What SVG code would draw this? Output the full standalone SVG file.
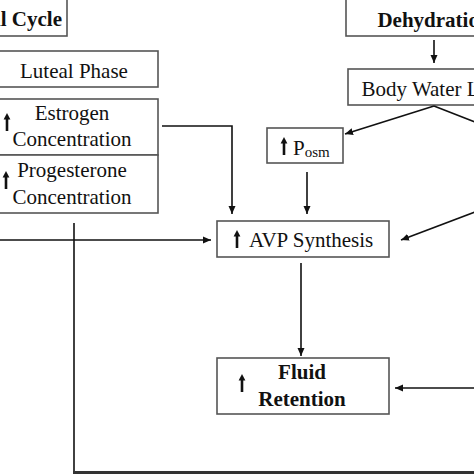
<svg xmlns="http://www.w3.org/2000/svg" width="474" height="474" viewBox="0 0 474 474">
<style>
.box{fill:#fff;stroke:#555;stroke-width:1.6}
.t{font-family:"Liberation Serif","Times New Roman",serif;font-size:21px;fill:#111}
.b{font-weight:bold}
.c{fill:none;stroke:#111;stroke-width:1.6}
</style>
<defs>
<marker id="ah" markerUnits="userSpaceOnUse" markerWidth="9" markerHeight="8" refX="8" refY="4" orient="auto">
<path d="M0,0.5 L8,4 L0,7.5 Z" fill="#111"/>
</marker>
<g id="up"><path d="M0,5 V18" stroke="#111" stroke-width="2.6"/><path d="M-3.4,6.5 L0,0 L3.4,6.5 Z" fill="#111"/></g>
</defs>
<rect width="474" height="474" fill="#fff"/>
<g id="menstrual"><rect class="box" x="-10" y="-10" width="77" height="46"/><text class="t b" x="62" y="26" text-anchor="end">Menstrual Cycle</text></g>
<g id="luteal"><rect class="box" x="-10" y="51" width="168" height="36"/><text class="t" x="74" y="78" text-anchor="middle">Luteal Phase</text></g>
<g id="estrogen"><rect class="box" x="-10" y="99" width="168" height="56"/><use href="#up" x="7" y="113"/><text class="t" x="72" y="120" text-anchor="middle">Estrogen</text><text class="t" x="72" y="146" text-anchor="middle">Concentration</text></g>
<g id="progesterone"><rect class="box" x="-10" y="155" width="168" height="58"/><use href="#up" x="6" y="171"/><text class="t" x="72" y="177" text-anchor="middle">Progesterone</text><text class="t" x="72" y="204" text-anchor="middle">Concentration</text></g>
<g id="dehydration"><rect class="box" x="346" y="-10" width="176" height="46"/><text class="t b" x="434" y="27" text-anchor="middle">Dehydration</text></g>
<g id="bodywater"><rect class="box" x="348" y="69" width="172" height="36"/><text class="t" x="434" y="96" text-anchor="middle">Body Water Loss</text></g>
<g id="posm"><rect class="box" x="267" y="128" width="76" height="35"/><use href="#up" x="284" y="137"/><text class="t" x="293" y="155">P<tspan font-size="15" dy="2">osm</tspan></text></g>
<g id="avp"><rect class="box" x="217" y="221" width="172" height="36"/><use href="#up" x="237" y="230"/><text class="t" x="249" y="247">AVP Synthesis</text></g>
<g id="fluid"><rect class="box" x="217" y="358" width="172" height="56"/><use href="#up" x="242" y="374"/><text class="t b" x="302" y="379" text-anchor="middle" font-size="22">Fluid</text><text class="t b" x="302" y="406" text-anchor="middle" font-size="22">Retention</text></g>
<g id="connectors">
<path class="c" d="M162,126 H232 V214" marker-end="url(#ah)"/>
<path class="c" d="M0,240 H211" marker-end="url(#ah)"/>
<path class="c" d="M74,223 V472"/>
<rect x="73" y="471" width="401" height="3" fill="#333"/>
<path class="c" d="M434,40 V63" marker-end="url(#ah)"/>
<path class="c" d="M434,106 L345,134" marker-end="url(#ah)"/>
<path class="c" d="M434,106 L480,124"/>
<path class="c" d="M307,172 V214" marker-end="url(#ah)"/>
<path class="c" d="M480,210 L401,240" marker-end="url(#ah)"/>
<path class="c" d="M301,263 V356" marker-end="url(#ah)"/>
<path class="c" d="M480,388 H395" marker-end="url(#ah)"/>
</g>
</svg>
